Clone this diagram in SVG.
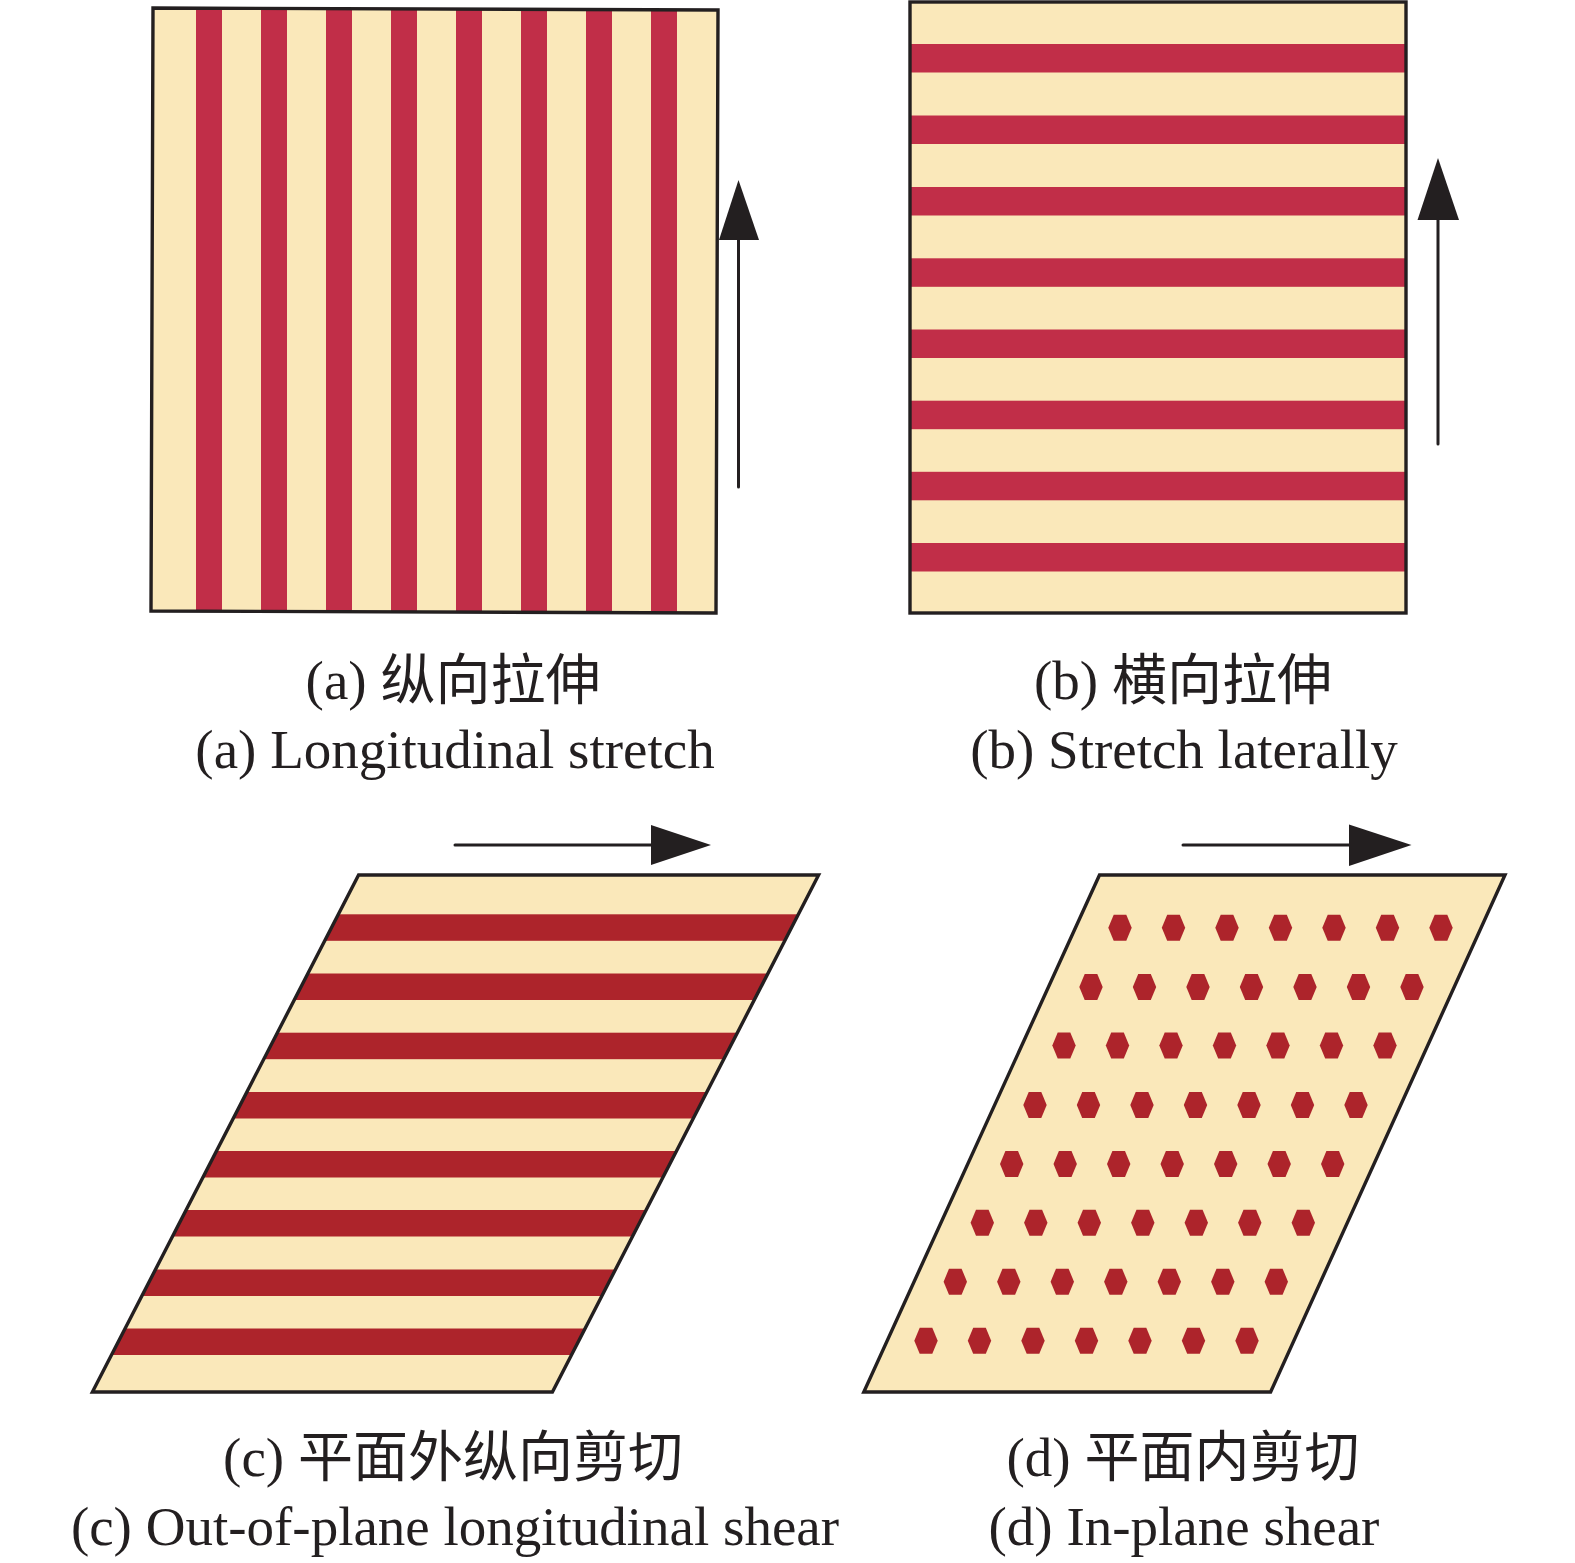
<svg xmlns="http://www.w3.org/2000/svg" xmlns:xlink="http://www.w3.org/1999/xlink" width="1575" height="1563" viewBox="0 0 1575 1563">
<style>
.bg{fill:#FAE8BA;}
.out{fill:none;stroke:#231F20;stroke-width:3.4;stroke-linejoin:miter;}
.red1{fill:#C12E48;}
.red2{fill:#AD242B;}
.ln{stroke:#231F20;stroke-width:3;fill:none;stroke-linecap:round;}
.hd{fill:#231F20;}
.t{font-family:"Liberation Serif","Noto Sans CJK SC",serif;font-size:55px;fill:#231F20;text-anchor:middle;}
</style>
<defs>
<polygon id="hex" class="red2" points="-11.7,0 -6.3,-13 6.3,-13 11.7,0 6.3,13 -6.3,13"/>
<clipPath id="clipC"><polygon points="358.6,875 818.6,875 552.4,1392 92.4,1392"/></clipPath>
</defs>

<g id="panel-a">
<polygon class="bg" points="153,8 718,10 716,613 151,611"/>
<g class="red1">
<rect x="196" y="9" width="26" height="603"/>
<rect x="261" y="9" width="26" height="603"/>
<rect x="326" y="9" width="26" height="603"/>
<rect x="391" y="9" width="26" height="603"/>
<rect x="456" y="9" width="26" height="603"/>
<rect x="521" y="9" width="26" height="603"/>
<rect x="586" y="9" width="26" height="603"/>
<rect x="651" y="9" width="26" height="603"/>
</g>
<polygon class="out" points="153,8 718,10 716,613 151,611"/>
</g>

<g id="panel-b">
<rect class="bg" x="910" y="2" width="496" height="611"/>
<g class="red1">
<rect x="910" y="44" width="496" height="28.5"/>
<rect x="910" y="115.5" width="496" height="28.5"/>
<rect x="910" y="187" width="496" height="28.5"/>
<rect x="910" y="258.3" width="496" height="28.5"/>
<rect x="910" y="329.5" width="496" height="28.5"/>
<rect x="910" y="400.7" width="496" height="28.5"/>
<rect x="910" y="471.8" width="496" height="28.5"/>
<rect x="910" y="543" width="496" height="28.5"/>
</g>
<rect class="out" x="910" y="2" width="496" height="611"/>
</g>

<g id="panel-c">
<polygon class="bg" points="358.6,875 818.6,875 552.4,1392 92.4,1392"/>
<g class="red2" clip-path="url(#clipC)">
<rect x="80" y="914.3" width="760" height="26.5"/>
<rect x="80" y="973.5" width="760" height="26.5"/>
<rect x="80" y="1032.7" width="760" height="26.5"/>
<rect x="80" y="1092" width="760" height="26.5"/>
<rect x="80" y="1151" width="760" height="26.5"/>
<rect x="80" y="1210" width="760" height="26.5"/>
<rect x="80" y="1269.5" width="760" height="26.5"/>
<rect x="80" y="1328.5" width="760" height="26.5"/>
</g>
<polygon class="out" points="358.6,875 818.6,875 552.4,1392 92.4,1392"/>
</g>

<g id="panel-d">
<polygon class="bg" points="1099.5,875 1505,875 1270.6,1392 863.8,1392"/>
<g id="hexes">
<use xlink:href="#hex" x="1120" y="927.7"/><use xlink:href="#hex" x="1173.5" y="927.7"/><use xlink:href="#hex" x="1227" y="927.7"/><use xlink:href="#hex" x="1280.5" y="927.7"/><use xlink:href="#hex" x="1334" y="927.7"/><use xlink:href="#hex" x="1387.5" y="927.7"/><use xlink:href="#hex" x="1441" y="927.7"/>
<use xlink:href="#hex" x="1091" y="987"/><use xlink:href="#hex" x="1144.5" y="987"/><use xlink:href="#hex" x="1198" y="987"/><use xlink:href="#hex" x="1251.5" y="987"/><use xlink:href="#hex" x="1305" y="987"/><use xlink:href="#hex" x="1358.5" y="987"/><use xlink:href="#hex" x="1412" y="987"/>
<use xlink:href="#hex" x="1064" y="1045.5"/><use xlink:href="#hex" x="1117.5" y="1045.5"/><use xlink:href="#hex" x="1171" y="1045.5"/><use xlink:href="#hex" x="1224.5" y="1045.5"/><use xlink:href="#hex" x="1278" y="1045.5"/><use xlink:href="#hex" x="1331.5" y="1045.5"/><use xlink:href="#hex" x="1385" y="1045.5"/>
<use xlink:href="#hex" x="1035" y="1105"/><use xlink:href="#hex" x="1088.5" y="1105"/><use xlink:href="#hex" x="1142" y="1105"/><use xlink:href="#hex" x="1195.5" y="1105"/><use xlink:href="#hex" x="1249" y="1105"/><use xlink:href="#hex" x="1302.5" y="1105"/><use xlink:href="#hex" x="1356" y="1105"/>
<use xlink:href="#hex" x="1011.7" y="1164"/><use xlink:href="#hex" x="1065.2" y="1164"/><use xlink:href="#hex" x="1118.7" y="1164"/><use xlink:href="#hex" x="1172.2" y="1164"/><use xlink:href="#hex" x="1225.7" y="1164"/><use xlink:href="#hex" x="1279.2" y="1164"/><use xlink:href="#hex" x="1332.7" y="1164"/>
<use xlink:href="#hex" x="982.3" y="1222.7"/><use xlink:href="#hex" x="1035.8" y="1222.7"/><use xlink:href="#hex" x="1089.3" y="1222.7"/><use xlink:href="#hex" x="1142.8" y="1222.7"/><use xlink:href="#hex" x="1196.3" y="1222.7"/><use xlink:href="#hex" x="1249.8" y="1222.7"/><use xlink:href="#hex" x="1303.3" y="1222.7"/>
<use xlink:href="#hex" x="955.3" y="1281.7"/><use xlink:href="#hex" x="1008.8" y="1281.7"/><use xlink:href="#hex" x="1062.3" y="1281.7"/><use xlink:href="#hex" x="1115.8" y="1281.7"/><use xlink:href="#hex" x="1169.3" y="1281.7"/><use xlink:href="#hex" x="1222.8" y="1281.7"/><use xlink:href="#hex" x="1276.3" y="1281.7"/>
<use xlink:href="#hex" x="926" y="1340.7"/><use xlink:href="#hex" x="979.5" y="1340.7"/><use xlink:href="#hex" x="1033" y="1340.7"/><use xlink:href="#hex" x="1086.5" y="1340.7"/><use xlink:href="#hex" x="1140" y="1340.7"/><use xlink:href="#hex" x="1193.5" y="1340.7"/><use xlink:href="#hex" x="1247" y="1340.7"/>
</g>
<polygon class="out" points="1099.5,875 1505,875 1270.6,1392 863.8,1392"/>
</g>

<g id="connectors">
<line class="ln" x1="738.5" y1="487" x2="738.5" y2="236"/>
<polygon class="hd" points="738.5,180 719,240 759,240"/>
<line class="ln" x1="1438" y1="444" x2="1438" y2="216"/>
<polygon class="hd" points="1438,158 1417.5,220 1459,220"/>
<line class="ln" x1="455" y1="845" x2="655" y2="845"/>
<polygon class="hd" points="711,845 651,825 651,865"/>
<line class="ln" x1="1183" y1="845" x2="1353" y2="845"/>
<polygon class="hd" points="1411.5,845 1349,824.5 1349,866"/>
</g>

<g id="labels">
<text class="t" x="453" y="699">(a) 纵向拉伸</text>
<text class="t" x="455" y="768">(a) Longitudinal stretch</text>
<text class="t" x="1183" y="699">(b) 横向拉伸</text>
<text class="t" x="1184" y="768">(b) Stretch laterally</text>
<text class="t" x="453" y="1476">(c) 平面外纵向剪切</text>
<text class="t" x="455" y="1545">(c) Out-of-plane longitudinal shear</text>
<text class="t" x="1183" y="1476">(d) 平面内剪切</text>
<text class="t" x="1184" y="1545">(d) In-plane shear</text>
</g>
</svg>
